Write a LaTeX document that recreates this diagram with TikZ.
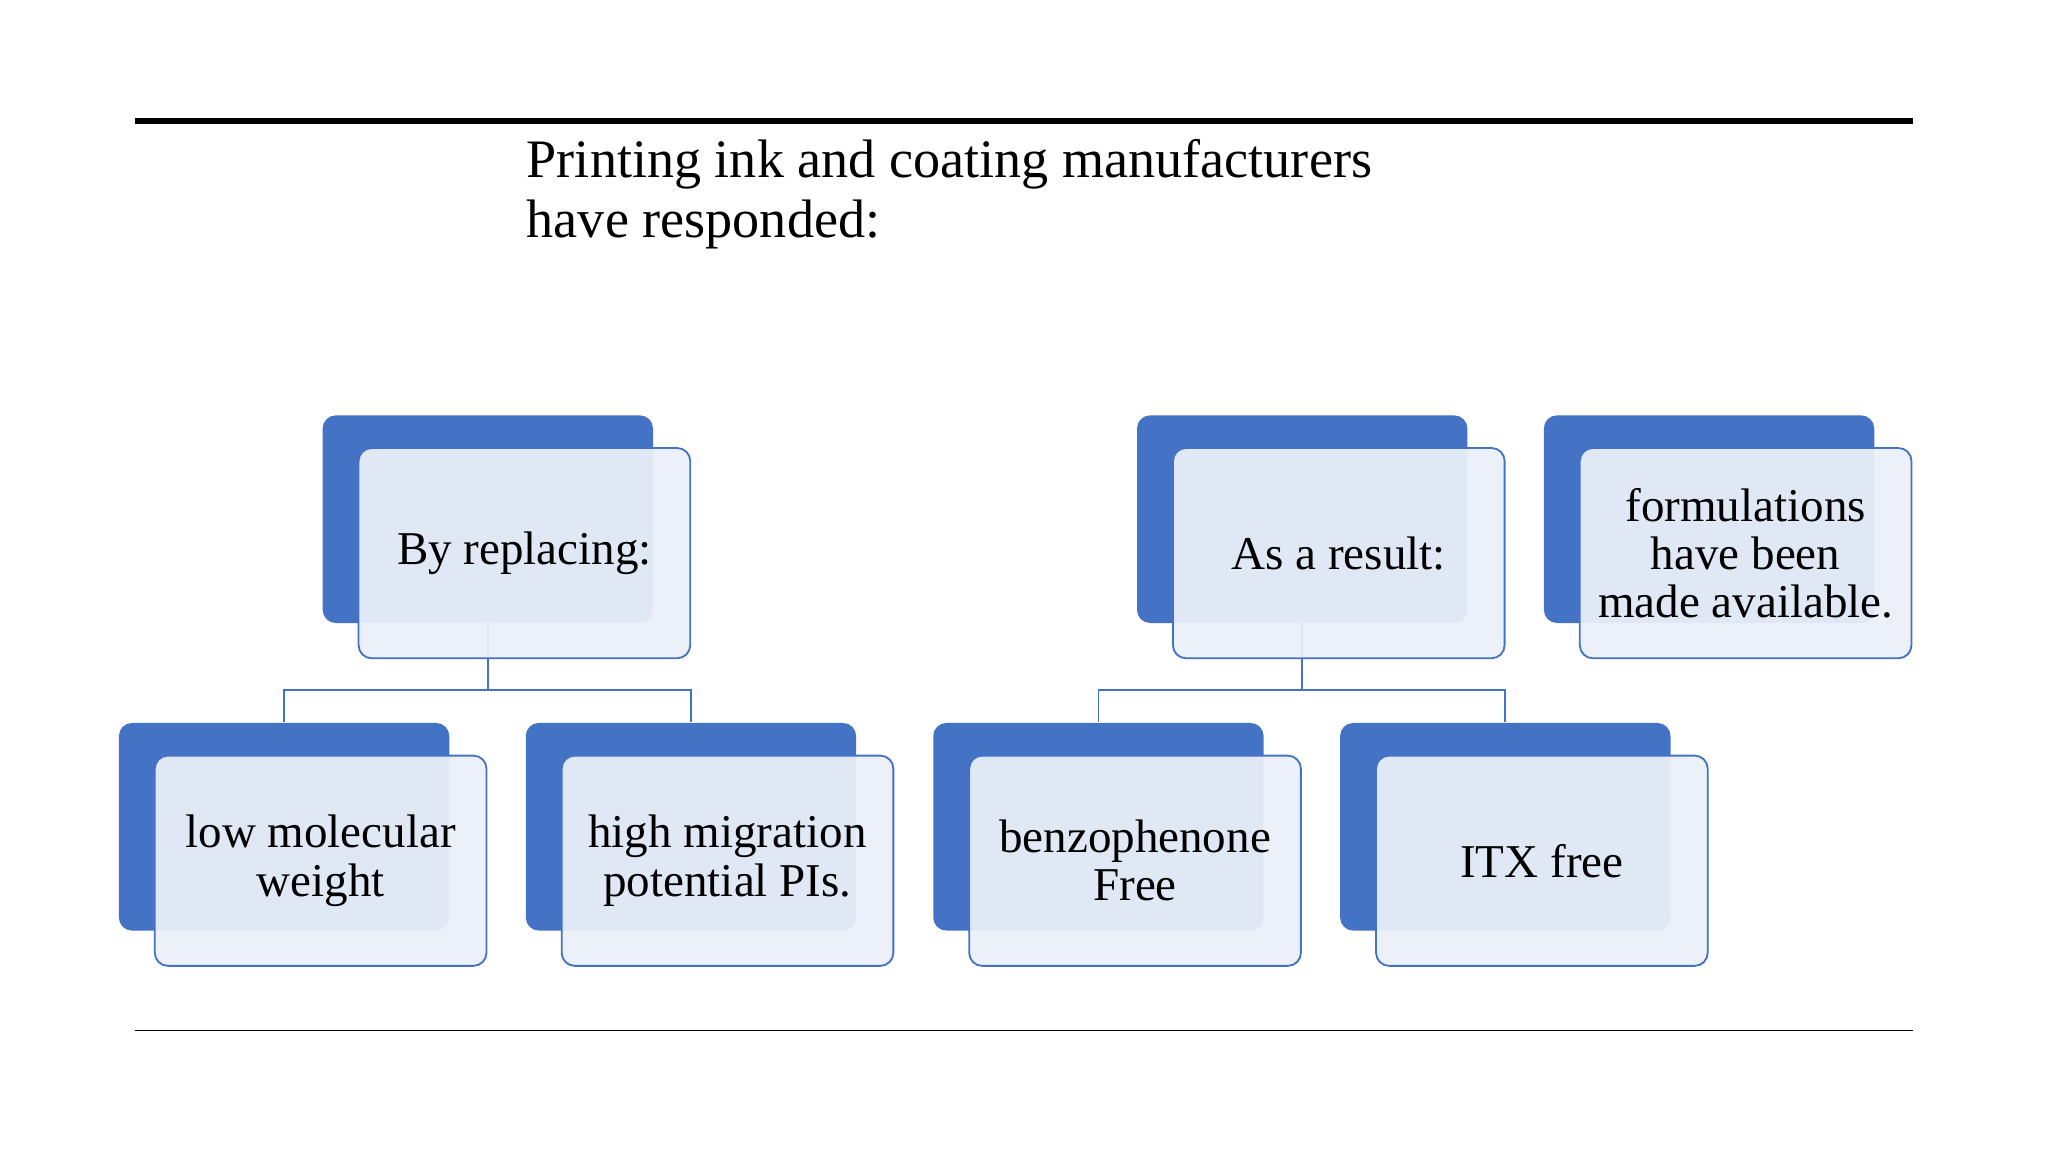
\documentclass[tikz,border=0pt]{standalone}
\usepackage{fontspec}
\setmainfont{Liberation Serif}
\usepackage{xcolor}
\definecolor{boxblue}{RGB}{68,114,196}
\definecolor{boxpale}{RGB}{235,240,249}

\tikzset{
  back/.style={fill=boxblue, rounded corners=0.2cm, minimum width=5.06cm, minimum height=3.18cm, inner sep=0pt},
  front/.style={draw=boxblue, thick, fill=boxpale, fill opacity=0.94, text opacity=1, rounded corners=0.2cm,
    minimum width=5.08cm, minimum height=3.22cm, inner sep=0pt, align=center, font=\fontsize{20.5}{21}\selectfont},
  link/.style={draw=boxblue, thick}
}

% back box #1B at (#2,#3), front box #1F shifted, with text #4
\newcommand{\piboxes}[4]{%
  \node[back] (#1B) at (#2,#3) {};
  \node[front] (#1F) at (#2+28,#3+26) {#4};
}

\begin{document}
\begin{tikzpicture}[x=0.02cm, y=-0.02cm]
    \useasboundingbox (0,0) rectangle (1568,882);

    \draw [line width=2.6pt] (103,93) -- (1465,93);
    \draw [line width=0.8pt] (103,789) -- (1465,789);
    \node [anchor=north west, align=left, inner sep=0pt, font=\fontsize{23.6}{26.5}\selectfont] (title) at (403,106)
        {Printing ink and coating manufacturers\\have responded:};

    % connectors behind the boxes
    \coordinate (replS) at (373.5,477);
    \coordinate (resS) at (997,477);
    \draw [link] (replS) -- ++(0,51) -| (217.5,553);
    \draw [link] (replS) ++(0,51) -| (529,553);
    \draw [link] (resS) -- ++(0,51) -| (841,553);
    \draw [link] (resS) ++(0,51) -| (1152.5,553);

    \piboxes{repl}{373.5}{397.5}{By replacing:}
    \piboxes{low}{217.5}{633}{low molecular\\weight}
    \piboxes{high}{529}{633}{high migration\\potential PIs.}
    \piboxes{res}{997}{397.5}{As a result:}
    \piboxes{form}{1308.5}{397.5}{formulations\\have been\\made available.}
    \piboxes{benzo}{841}{633}{benzophenone\\Free}
    \piboxes{itx}{1152.5}{633}{ITX free}
\end{tikzpicture}
\end{document}
